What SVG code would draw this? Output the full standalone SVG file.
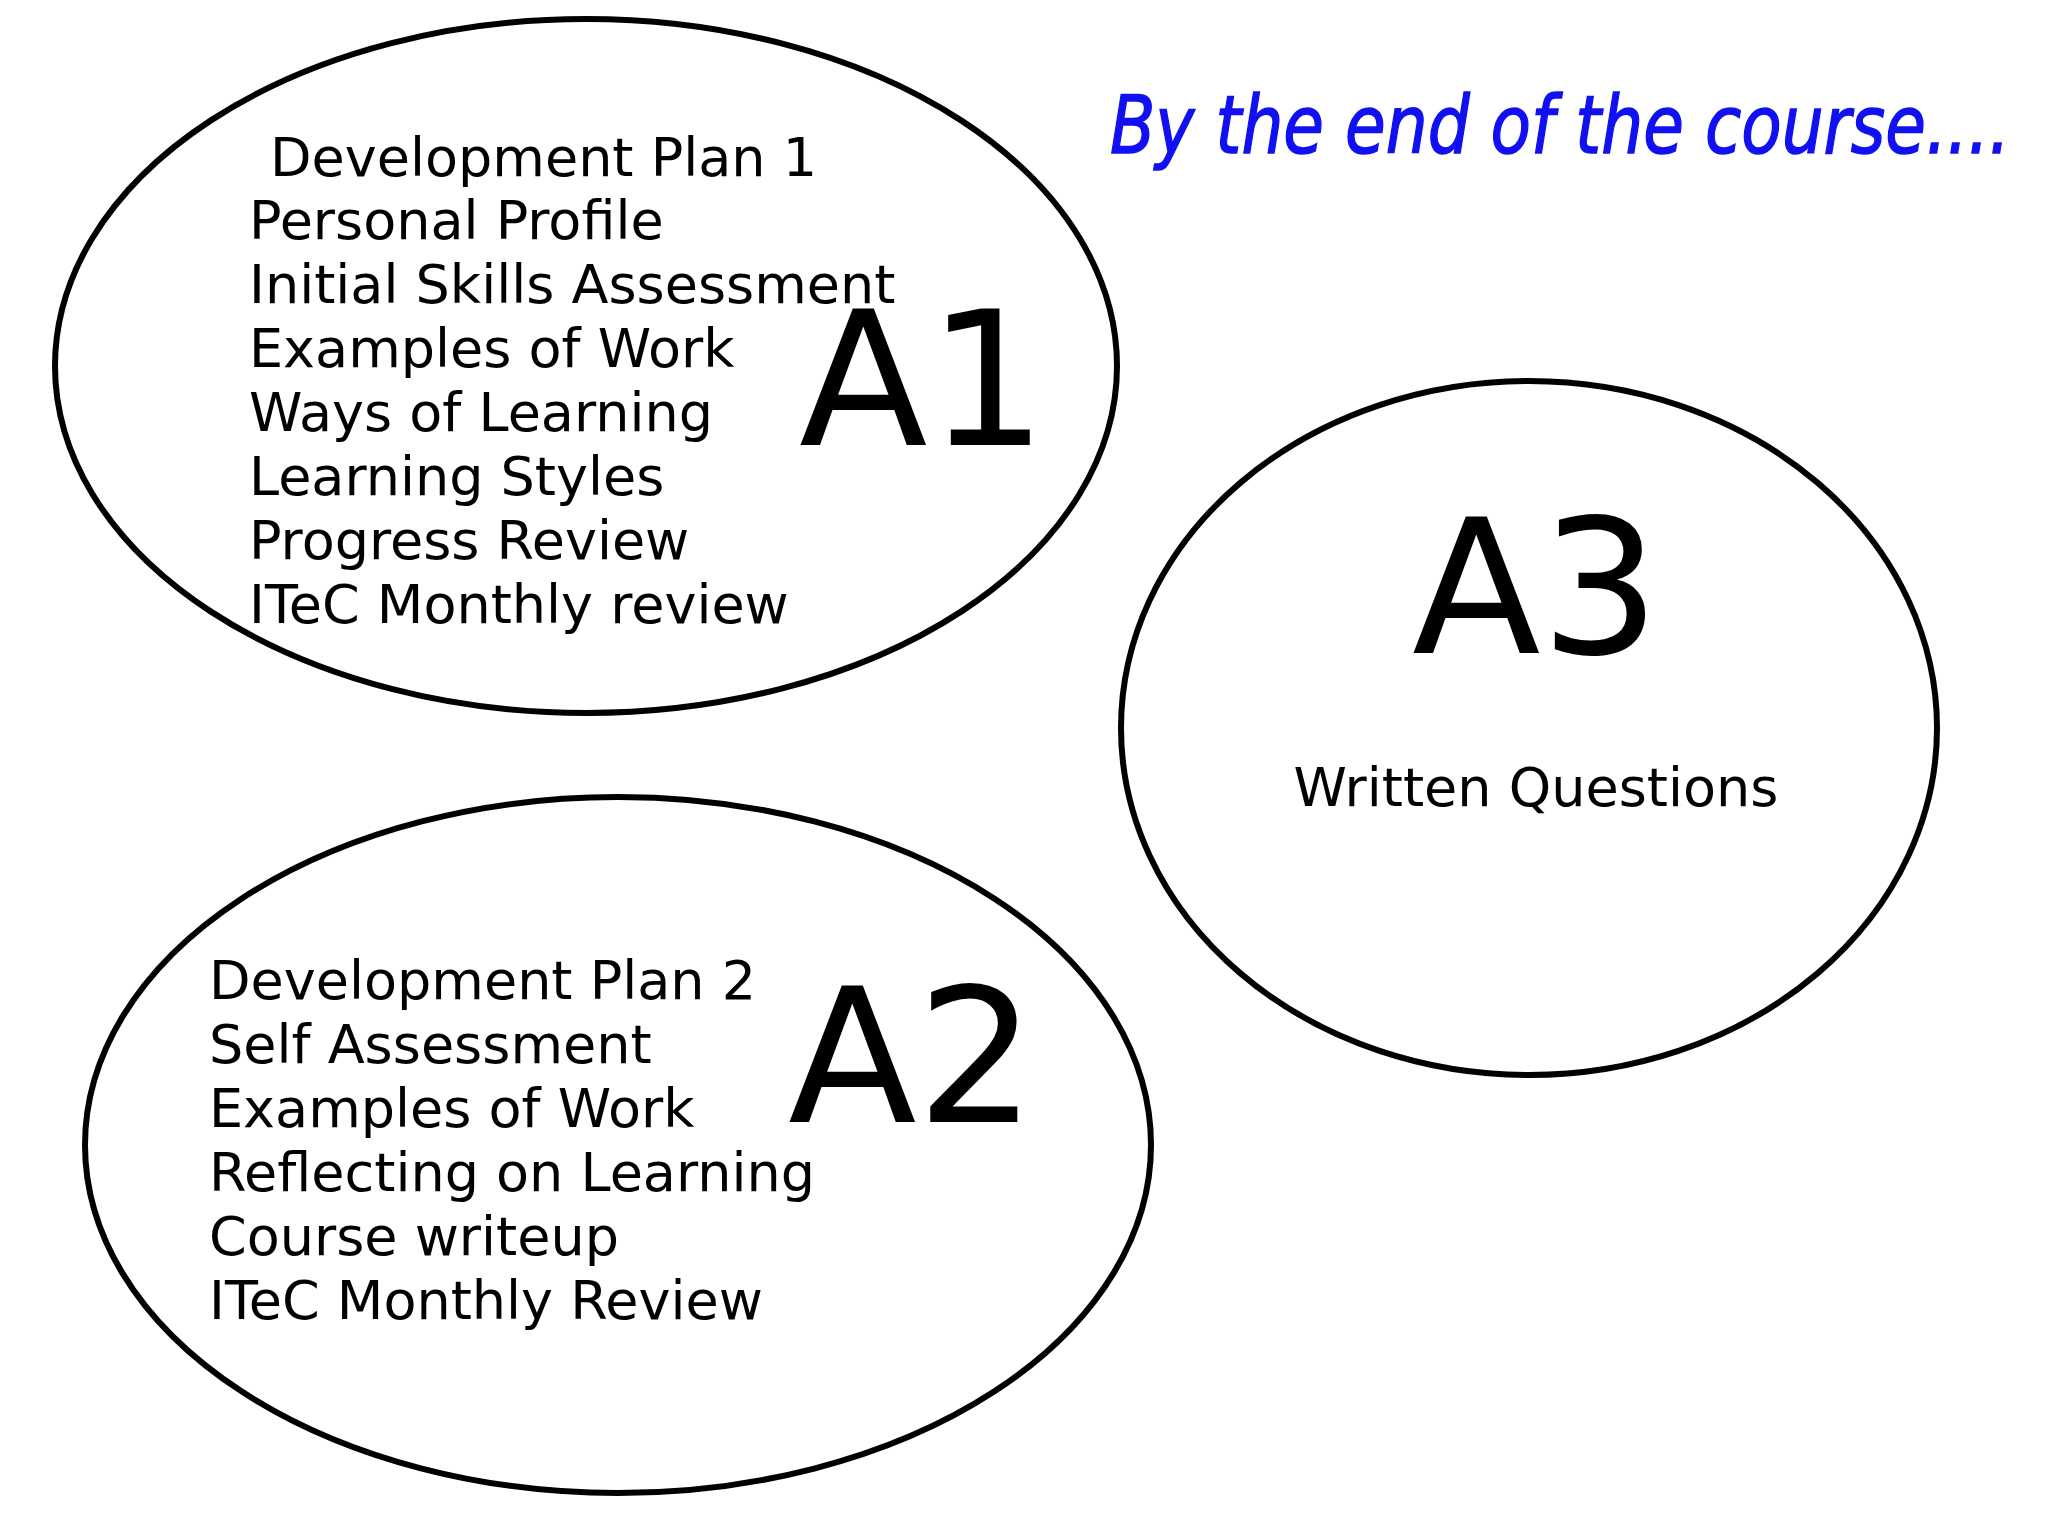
<svg xmlns="http://www.w3.org/2000/svg" width="2048" height="1536" viewBox="0 0 2048 1536">
<style>
.bub{fill:none;stroke:#000;stroke-width:6}
.t{font-family:"DejaVu Sans",Verdana,sans-serif;font-size:54px;fill:#000}
.big{font-family:"DejaVu Sans",Verdana,sans-serif;font-size:188px;fill:#000}
.title{font-family:"DejaVu Sans","Liberation Sans",sans-serif;font-style:italic;font-size:80px;fill:#1010f0;stroke:#1010f0;stroke-width:1.5}
</style>
<rect width="2048" height="1536" fill="#fff"/>
<text class="title" x="1110" y="153" textLength="900" lengthAdjust="spacingAndGlyphs">By the end of the course....</text>
<g id="A1">
<ellipse class="bub" cx="586" cy="366" rx="531" ry="347"/>
<text class="t" x="270" y="176">Development Plan 1</text>
<text class="t" x="249" y="239">Personal Profile</text>
<text class="t" x="249" y="303">Initial Skills Assessment</text>
<text class="t" x="249" y="367">Examples of Work</text>
<text class="t" x="249" y="431">Ways of Learning</text>
<text class="t" x="249" y="495">Learning Styles</text>
<text class="t" x="249" y="559">Progress Review</text>
<text class="t" x="249" y="623">ITeC Monthly review</text>
<text class="big" x="799" y="445">A1</text>
</g>
<g id="A3">
<ellipse class="bub" cx="1529" cy="728" rx="408" ry="347"/>
<text class="big" x="1536" y="653" text-anchor="middle">A3</text>
<text class="t" x="1536" y="806" text-anchor="middle">Written Questions</text>
</g>
<g id="A2">
<ellipse class="bub" cx="618" cy="1145" rx="533" ry="348"/>
<text class="t" x="209" y="999">Development Plan 2</text>
<text class="t" x="209" y="1063">Self Assessment</text>
<text class="t" x="209" y="1127">Examples of Work</text>
<text class="t" x="209" y="1191">Reflecting on Learning</text>
<text class="t" x="209" y="1255">Course writeup</text>
<text class="t" x="209" y="1319">ITeC Monthly Review</text>
<text class="big" x="788" y="1122">A2</text>
</g>
<g id="connectors"/>
</svg>
